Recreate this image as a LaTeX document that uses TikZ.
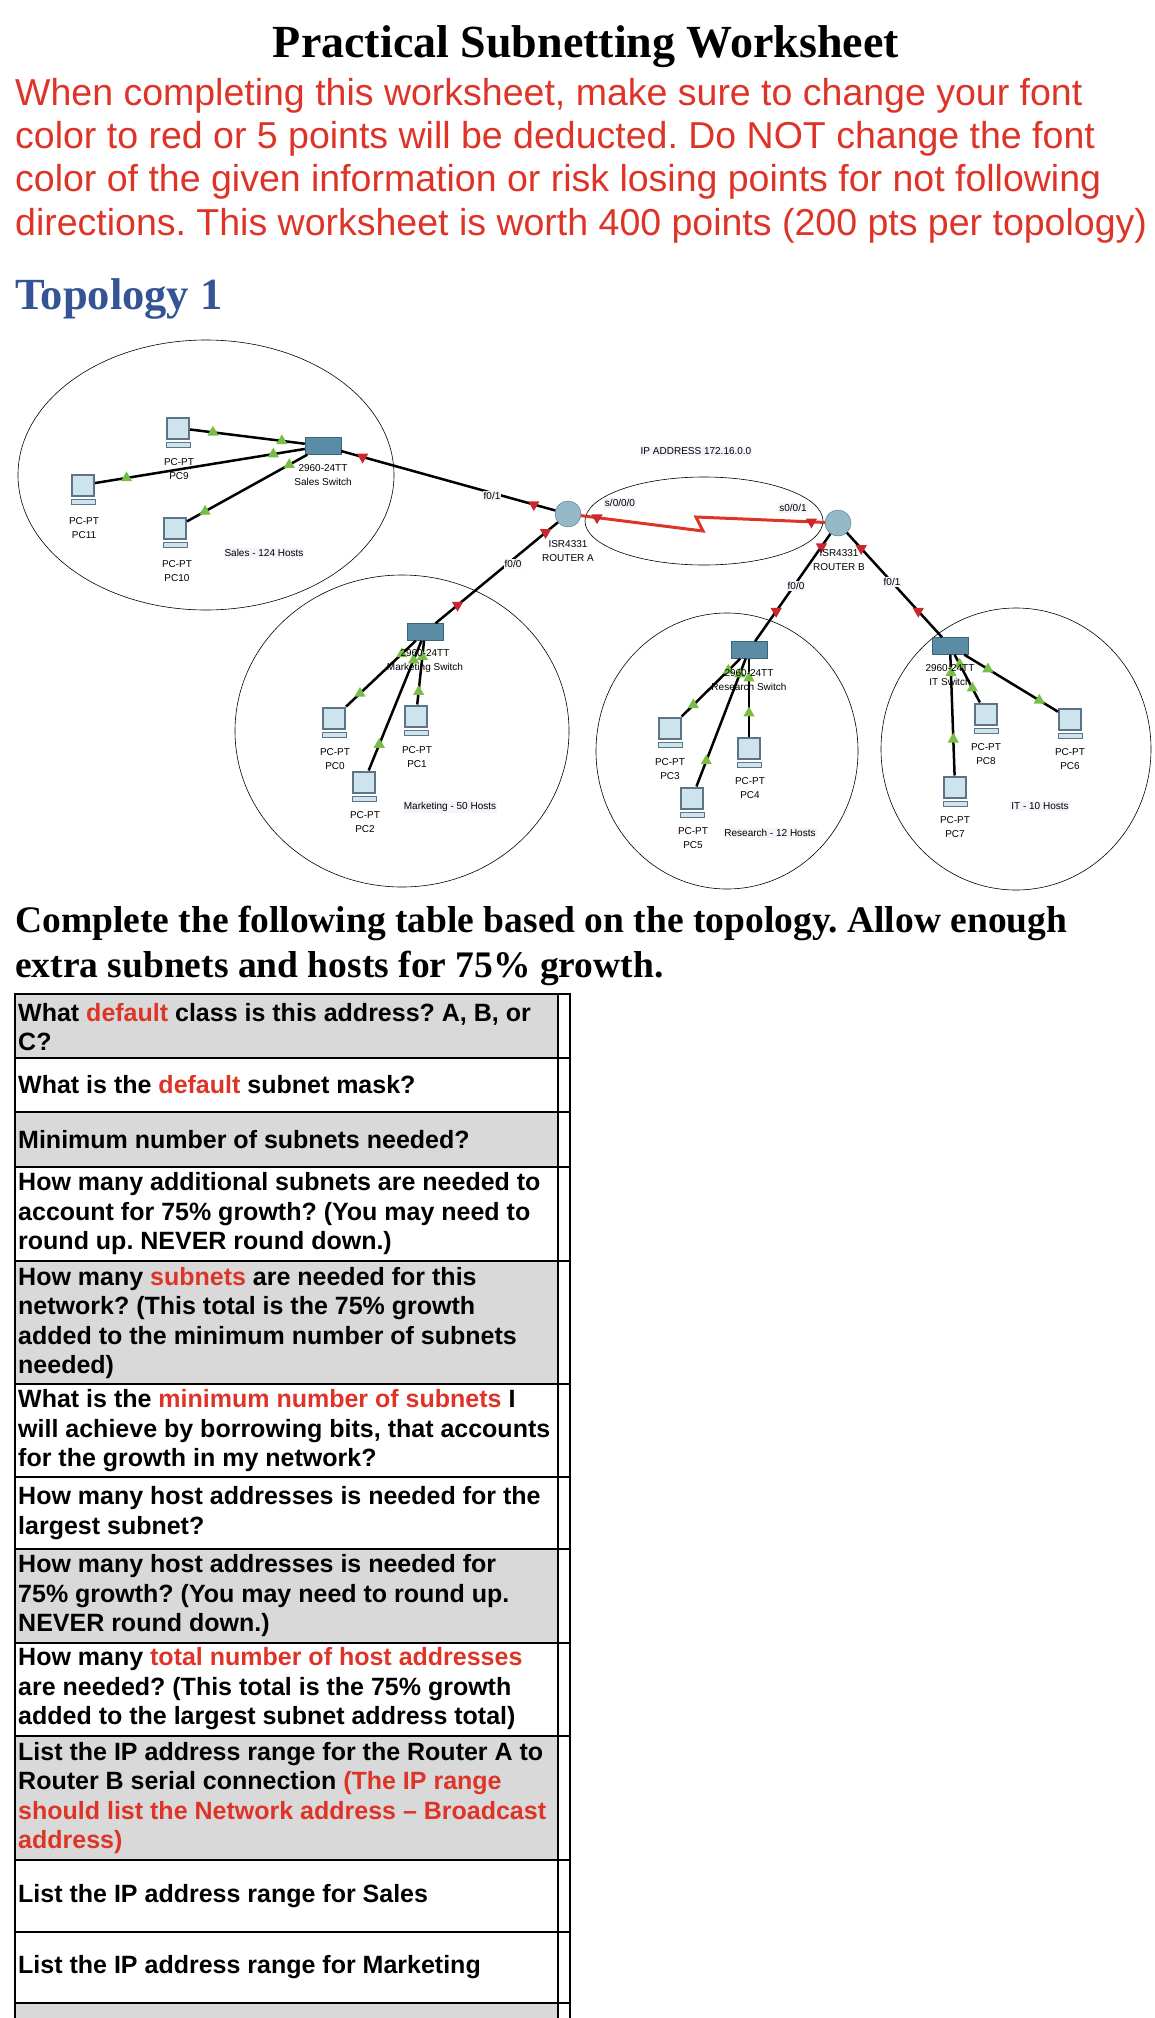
\documentclass[tikz,border=0pt]{standalone}
\usepackage{fontspec}
\setmainfont{Liberation Serif}
\setsansfont{Liberation Sans}
\usetikzlibrary{decorations.markings}
\usetikzlibrary{shapes.geometric}
\usetikzlibrary{positioning}
\frenchspacing
\definecolor{wsred}{RGB}{222,52,40}
\definecolor{wsblue}{RGB}{52,84,150}
\definecolor{cellgrey}{RGB}{217,217,217}
\definecolor{linkgreen}{RGB}{120,190,70}
\definecolor{linkred}{RGB}{200,40,45}
\definecolor{swblue}{RGB}{90,140,165}
\definecolor{scrblue}{RGB}{205,228,238}
\definecolor{lblbg}{RGB}{244,244,250}
\tikzset{
  % link state triangles, kept upright
  green mark/.style={
    postaction={
      decorate,
      decoration={
        markings,
        mark=at position #1 with {\node[up tri]{};}
      }
    }
  },
  red mark/.style={
    postaction={
      decorate,
      decoration={
        markings,
        mark=at position #1 with {\node[down tri]{};}
      }
    }
  },
  up tri/.style={
    regular polygon, regular polygon sides=3,
    fill=linkgreen, minimum size=13pt, inner sep=0
  },
  down tri/.style={
    up tri, fill=linkred, shape border rotate=180
  }
}
\tikzset{
  link/.style={
    draw=black,
    line width=2.5pt
  },
  serial/.style={
    draw=wsred,
    line width=3pt
  },
  area/.style={
    draw=black,
    line width=0.6pt
  }
}
\tikzset{
  pc/.style={
    draw={rgb,255:red,95;green,115;blue,135},
    fill=scrblue,
    line width=2pt,
    minimum width=22pt,
    minimum height=21pt,
    inner sep=0
  },
  switch/.style={
    draw={rgb,255:red,60;green,100;blue,120},
    fill=swblue,
    minimum width=36pt,
    minimum height=17pt,
    inner sep=0
  },
  router/.style={
    circle,
    draw={rgb,255:red,70;green,110;blue,130},
    fill={rgb,255:red,150;green,185;blue,200},
    minimum size=26pt,
    inner sep=0
  },
  dev label/.style={
    font=\sffamily\fontsize{10}{14}\selectfont,
    align=center,
    inner sep=1pt
  },
  area label/.style={
    dev label,
    fill=lblbg
  },
  cell/.style={
    font=\sffamily\bfseries\fontsize{25}{29.5}\selectfont,
    align=left,
    anchor=west,
    inner sep=0
  },
  redline/.style={
    font=\sffamily\fontsize{37.5}{43}\selectfont,
    text=wsred,
    anchor=west,
    inner sep=0
  }
}

\begin{document}
\begin{tikzpicture}[x=1pt, y=-1pt]
  \useasboundingbox[fill=white] (0,0) rectangle (1154,2018);

  % header
  \node[font=\bfseries\fontsize{46}{52}\selectfont] (title) at (586,47)
    {Practical Subnetting Worksheet};
  \node[redline] (note1) at (15,96)
    {When completing this worksheet, make sure to change your font};
  \node[redline] (note2) at (15,139)
    {color to red or 5 points will be deducted. Do NOT change the font};
  \node[redline] (note3) at (15,182)
    {color of the given information or risk losing points for not following};
  \node[redline] (note4) at (15,226)
    {directions. This worksheet is worth 400 points (200 pts per topology)};
  \node[font=\bfseries\fontsize{44.5}{50}\selectfont, text=wsblue, anchor=west, inner sep=0]
    (topo) at (15,299) {Topology 1};

  % areas
  \draw[area] (206,475) ellipse (188 and 135);
  \draw[area] (704,521) ellipse (119 and 44);
  \draw[area] (402,731) ellipse (167 and 156);
  \draw[area] (727,751) ellipse (131 and 138);
  \draw[area] (1016,749) ellipse (135 and 141);

  % devices
  \node[router] (ra) at (568,514) {};
  \node[router] (rb) at (838,523) {};
  \node[switch] (sw-sales) at (323,446) {};
  \node[switch] (sw-mkt) at (425,632) {};
  \node[switch] (sw-res) at (749,650) {};
  \node[switch] (sw-it) at (950,646) {};
  \node[pc] (pc9) at (178,428) {};
  \node[pc] (pc11) at (83,485) {};
  \node[pc] (pc10) at (175,528) {};
  \node[pc] (pc0) at (334,718) {};
  \node[pc] (pc1) at (416,716) {};
  \node[pc] (pc2) at (364,782) {};
  \node[pc] (pc3) at (670,728) {};
  \node[pc] (pc4) at (749,748) {};
  \node[pc] (pc5) at (692,798) {};
  \node[pc] (pc8) at (986,714) {};
  \node[pc] (pc6) at (1070,719) {};
  \node[pc] (pc7) at (955,787) {};
  \foreach \p in {pc9,pc11,pc10,pc0,pc1,pc2,pc3,pc4,pc5,pc8,pc6,pc7}
    \filldraw[draw={rgb,255:red,95;green,115;blue,135}, fill=scrblue]
      ([xshift=-12pt,yshift=-3pt]\p.south) rectangle ([xshift=12pt,yshift=-8pt]\p.south);

  % links
  \draw[link, green mark=0.2, green mark=0.8] (pc9) -- (sw-sales);
  \draw[link, green mark=0.15, green mark=0.85] (pc11) -- (sw-sales);
  \draw[link, green mark=0.15, green mark=0.85] (pc10) -- (sw-sales);
  \draw[link, red mark=0.1, red mark=0.9] (sw-sales) -- (ra);
  \draw[link, red mark=0.1, red mark=0.82] (ra) -- (sw-mkt);
  \draw[link, green mark=0.2, green mark=0.8] (pc0) -- (sw-mkt);
  \draw[link, green mark=0.2, green mark=0.75] (pc1) -- (sw-mkt);
  \draw[link, green mark=0.2, green mark=0.85] (pc2) -- (sw-mkt);
  \draw[link, red mark=0.12, red mark=0.72] (rb) -- (sw-res);
  \draw[link, red mark=0.15, red mark=0.75] (rb) -- (sw-it);
  \draw[link, green mark=0.2, green mark=0.8] (pc3) -- (sw-res);
  \draw[link, green mark=0.3, green mark=0.75] (pc4) -- (sw-res);
  \draw[link, green mark=0.2, green mark=0.88] (pc5) -- (sw-res);
  \draw[link, green mark=0.3, green mark=0.8] (pc8) -- (sw-it);
  \draw[link, green mark=0.2, green mark=0.75] (pc6) -- (sw-it);
  \draw[link, green mark=0.3, green mark=0.85] (pc7) -- (sw-it);
  \draw[serial, red mark=0.06, red mark=0.95]
    (ra) -- (703,531) -- (696,517) -- (rb);

  % labels
  \node[dev label] (sales-sw-lbl) at (323,475) {2960-24TT\\Sales Switch};
  \node[dev label] (mkt-sw-lbl) at (425,661) {2960-24TT\\Marketing Switch};
  \node[dev label] (res-sw-lbl) at (749,680) {2960-24TT\\Research Switch};
  \node[dev label] (it-sw-lbl) at (950,675) {2960-24TT\\IT Switch};
  \node[dev label] (ra-lbl) at (568,551) {ISR4331\\ROUTER A};
  \node[dev label] (rb-lbl) at (839,560) {ISR4331\\ROUTER B};
  \node[dev label] (pc9-lbl) at (179,469) {PC-PT\\PC9};
  \node[dev label] (pc11-lbl) at (84,528) {PC-PT\\PC11};
  \node[dev label] (pc10-lbl) at (177,571) {PC-PT\\PC10};
  \node[dev label] (pc0-lbl) at (335,759) {PC-PT\\PC0};
  \node[dev label] (pc1-lbl) at (417,757) {PC-PT\\PC1};
  \node[dev label] (pc2-lbl) at (365,822) {PC-PT\\PC2};
  \node[dev label] (pc3-lbl) at (670,769) {PC-PT\\PC3};
  \node[dev label] (pc4-lbl) at (750,788) {PC-PT\\PC4};
  \node[dev label] (pc5-lbl) at (693,838) {PC-PT\\PC5};
  \node[dev label] (pc8-lbl) at (986,754) {PC-PT\\PC8};
  \node[dev label] (pc6-lbl) at (1070,759) {PC-PT\\PC6};
  \node[dev label] (pc7-lbl) at (955,827) {PC-PT\\PC7};
  \node[area label] (sales-lbl) at (264,553) {Sales - 124 Hosts};
  \node[area label] (mkt-lbl) at (450,807) {Marketing - 50 Hosts};
  \node[area label] (res-lbl) at (770,833) {Research - 12 Hosts};
  \node[area label] (it-lbl) at (1040,806) {IT - 10 Hosts};
  \node[area label] (ip-lbl) at (696,451) {IP ADDRESS 172.16.0.0};
  \node[area label] (f01a) at (492,496) {f0/1};
  \node[area label] (s000) at (620,503) {s/0/0/0};
  \node[area label] (s001) at (793,508) {s0/0/1};
  \node[area label] (f00a) at (513,564) {f0/0};
  \node[area label] (f00b) at (796,586) {f0/0};
  \node[area label] (f01b) at (892,582) {f0/1};

  % table
  \node[font=\bfseries\fontsize{37.5}{45}\selectfont, anchor=north west, align=left, inner sep=0]
    (ask) at (15,906)
    {Complete the following table based on the topology. Allow enough\\
     extra subnets and hosts for 75\% growth.};
  \foreach \top/\bot/\shade in {994/1058/cellgrey, 1058/1112/white, 1112/1167/cellgrey,
      1167/1261/white, 1261/1384/cellgrey, 1384/1477/white, 1477/1549/white,
      1549/1643/cellgrey, 1643/1736/white, 1736/1860/cellgrey, 1860/1932/white,
      1932/2003/white, 2003/2030/cellgrey} {
    \filldraw[fill=\shade, line width=2.5pt] (15,\top) rectangle (558,\bot);
    \draw[line width=2.5pt] (558,\top) rectangle (570,\bot);
  }
  \node[cell] (q1) at (18,1027) {What \textcolor{wsred}{default} class is this address? A, B, or\\C?};
  \node[cell] (q2) at (18,1085) {What is the \textcolor{wsred}{default} subnet mask?};
  \node[cell] (q3) at (18,1140) {Minimum number of subnets needed?};
  \node[cell] (q4) at (18,1214) {How many additional subnets are needed to\\account for 75\% growth? (You may need to\\round up. NEVER round down.)};
  \node[cell] (q5) at (18,1323) {How many \textcolor{wsred}{subnets} are needed for this\\network? (This total is the 75\% growth\\added to the minimum number of subnets\\needed)};
  \node[cell] (q6) at (18,1431) {What is the \textcolor{wsred}{minimum number of subnets} I\\will achieve by borrowing bits, that accounts\\for the growth in my network?};
  \node[cell] (q7) at (18,1513) {How many host addresses is needed for the\\largest subnet?};
  \node[cell] (q8) at (18,1596) {How many host addresses is needed for\\75\% growth? (You may need to round up.\\NEVER round down.)};
  \node[cell] (q9) at (18,1689) {How many \textcolor{wsred}{total number of host addresses}\\are needed? (This total is the 75\% growth\\added to the largest subnet address total)};
  \node[cell] (q10) at (18,1798) {List the IP address range for the Router A to\\Router B serial connection \textcolor{wsred}{(The IP range}\\\textcolor{wsred}{should list the Network address -- Broadcast}\\\textcolor{wsred}{address)}};
  \node[cell] (q11) at (18,1896) {List the IP address range for Sales};
  \node[cell] (q12) at (18,1967) {List the IP address range for Marketing};
\end{tikzpicture}
\end{document}
